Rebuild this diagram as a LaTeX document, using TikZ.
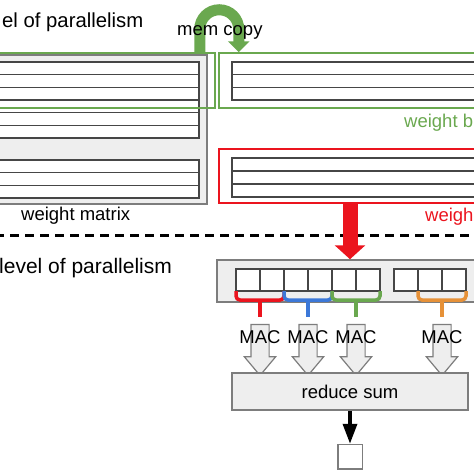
\documentclass[tikz,border=0pt]{standalone}
\usepackage{fontspec}
\setmainfont{Liberation Sans}
\usetikzlibrary{positioning,arrows.meta,shapes.arrows}

\definecolor{cgreen}{RGB}{106,168,79}
\definecolor{cred}{RGB}{235,20,30}
\definecolor{cblue}{RGB}{60,120,216}
\definecolor{corange}{RGB}{230,145,56}
\definecolor{boxfill}{RGB}{238,238,238}
\definecolor{boxline}{RGB}{125,125,125}
\definecolor{rowline}{RGB}{70,70,70}

\newcommand\ttlfont{\fontsize{20.3}{24}\selectfont}
\newcommand\lblfont{\fontsize{18.5}{22}\selectfont}
\newcommand\macfont{\fontsize{18.5}{22}\selectfont}

\begin{document}
\begin{tikzpicture}[x=1pt,y=1pt,
  frame/.style={rectangle,draw=boxline,fill=boxfill,line width=1.5pt,inner sep=0pt},
  row/.style={draw=rowline,fill=white,line width=1.2pt},
  gframe/.style={rectangle,draw=cgreen,line width=1.5pt,inner sep=0pt},
  rframe/.style={rectangle,draw=cred,line width=1.8pt,inner sep=0pt},
  cell/.style={rectangle,draw=rowline,fill=white,line width=1.3pt,minimum width=24pt,minimum height=22pt,inner sep=0pt,outer sep=0pt},
  pairbrace/.style={draw=#1,line width=3.5pt,rounded corners=4pt},
  macarr/.style={single arrow,draw=boxline,fill=boxfill,line width=1.2pt,shape border rotate=270,minimum height=51pt,inner sep=8.5pt,single arrow head extend=6.5pt,single arrow tip angle=80},
  maclbl/.style={font=\macfont,anchor=base,inner sep=0pt}]
  \useasboundingbox (0,0) rectangle (474,-474);
  \clip (0,0) rectangle (474,-474);

  % weight matrix
  \node[frame,minimum width=217pt,minimum height=149pt] (wmat) at (98.5,-129.5) {};
  \foreach \i in {0,...,5} \draw[row] (-10,-62-12.67*\i) rectangle ++(209,-12.67);
  \foreach \i in {0,1,2} \draw[row] (-10,-160-12.67*\i) rectangle ++(209,-12.67);

  % buffers on the right
  \foreach \i in {0,1,2} \draw[row] (232,-62-12.67*\i) rectangle ++(260,-12.67);
  \foreach \i in {0,1,2} \draw[row] (232,-158-13*\i) rectangle ++(260,-13);
  \node[gframe,minimum width=225pt,minimum height=55pt] (gsel) at (102.5,-80.5) {};
  \node[gframe,minimum width=265pt,minimum height=55pt] (gbuf) at (351.5,-80.5) {};
  \node[rframe,minimum width=265pt,minimum height=54pt] (rbuf) at (351.5,-176) {};

  \draw[cgreen,line width=11pt,-{Triangle[width=21pt,length=11pt]}]
    ([xshift=-16pt]gsel.north east) -- ++(0,23) arc[start angle=180,end angle=0,radius=19.5pt]
    coordinate (bend) -- (bend |- gbuf.north);

  \node[anchor=base west,font=\ttlfont,inner sep=0pt] (lvl1) at (2,-27) {el of parallelism};
  \node[anchor=base west,font=\lblfont,inner sep=0pt] (copylbl) at (177,-35) {mem copy};
  \node[anchor=base west,font=\lblfont,inner sep=0pt] (wmatlbl) at (21,-220) {weight matrix};
  \node[anchor=base west,font=\lblfont,inner sep=0pt,text=cgreen] (gbuflbl) at (404,-127) {weight b};
  \node[anchor=base west,font=\lblfont,inner sep=0pt,text=cred] (rbuflbl) at (425,-221) {weigh};

  \draw[line width=2.2pt,dash pattern=on 9pt off 6pt] (-5,-235.5) -- (480,-235.5);
  \node[anchor=base west,font=\fontsize{21}{25}\selectfont,inner sep=0pt] (lvl2) at (-1,-273) {level of parallelism};

  % input buffer and MAC units
  \node[frame,minimum width=267pt,minimum height=42pt] (buf) at (350.5,-281) {};
  \node[cell] (c1) at (248,-280) {};
  \node[cell,right=0pt of c1] (c2) {};
  \node[cell,right=0pt of c2] (c3) {};
  \node[cell,right=0pt of c3] (c4) {};
  \node[cell,right=0pt of c4] (c5) {};
  \node[cell,right=0pt of c5] (c6) {};
  \node[cell] (c7) at (406,-280) {};
  \node[cell,right=0pt of c7] (c8) {};
  \node[cell,right=0pt of c8] (c9) {};

  \draw[pairbrace=cred] (c1.south west) -- ++(0,-9) -| (c2.south east);
  \draw[pairbrace=cred] (c1.south east) ++(0,-9) -- ++(0,-17);
  \draw[pairbrace=cblue] (c3.south west) -- ++(0,-9) -| (c4.south east);
  \draw[pairbrace=cblue] (c3.south east) ++(0,-9) -- ++(0,-17);
  \draw[pairbrace=cgreen] (c5.south west) -- ++(0,-9) -| (c6.south east);
  \draw[pairbrace=cgreen] (c5.south east) ++(0,-9) -- ++(0,-17);
  \draw[pairbrace=corange] (c8.south west) -- ++(0,-9) -| (c9.south east);
  \draw[pairbrace=corange] (c8.south east) ++(0,-9) -- ++(0,-17);

  \node[macarr] (a1) at (260,-344.5) {};
  \node[macarr] (a2) at (308,-344.5) {};
  \node[macarr] (a3) at (356,-344.5) {};
  \node[macarr] (a4) at (442,-344.5) {};
  \node[maclbl] (m1) at ([yshift=1.5pt]a1.center) {MAC};
  \node[maclbl] (m2) at ([yshift=1.5pt]a2.center) {MAC};
  \node[maclbl] (m3) at ([yshift=1.5pt]a3.center) {MAC};
  \node[maclbl] (m4) at ([yshift=1.5pt]a4.center) {MAC};

  \node[frame,minimum width=236pt,minimum height=37pt,font=\lblfont] (rsum) at (350,-391.5) {reduce sum};
  \node[rectangle,draw=boxline,fill=white,line width=1.5pt,minimum size=24.5pt,below=33pt of rsum] (out) {};

  \draw[line width=3.5pt,-{Triangle[width=14pt,length=20pt]}] (rsum) -- (out);
  \draw[cred,line width=15pt,-{Triangle[width=30pt,length=14pt]}] (rbuf.south -| rsum) -- (buf.north -| rsum);
\end{tikzpicture}
\end{document}
